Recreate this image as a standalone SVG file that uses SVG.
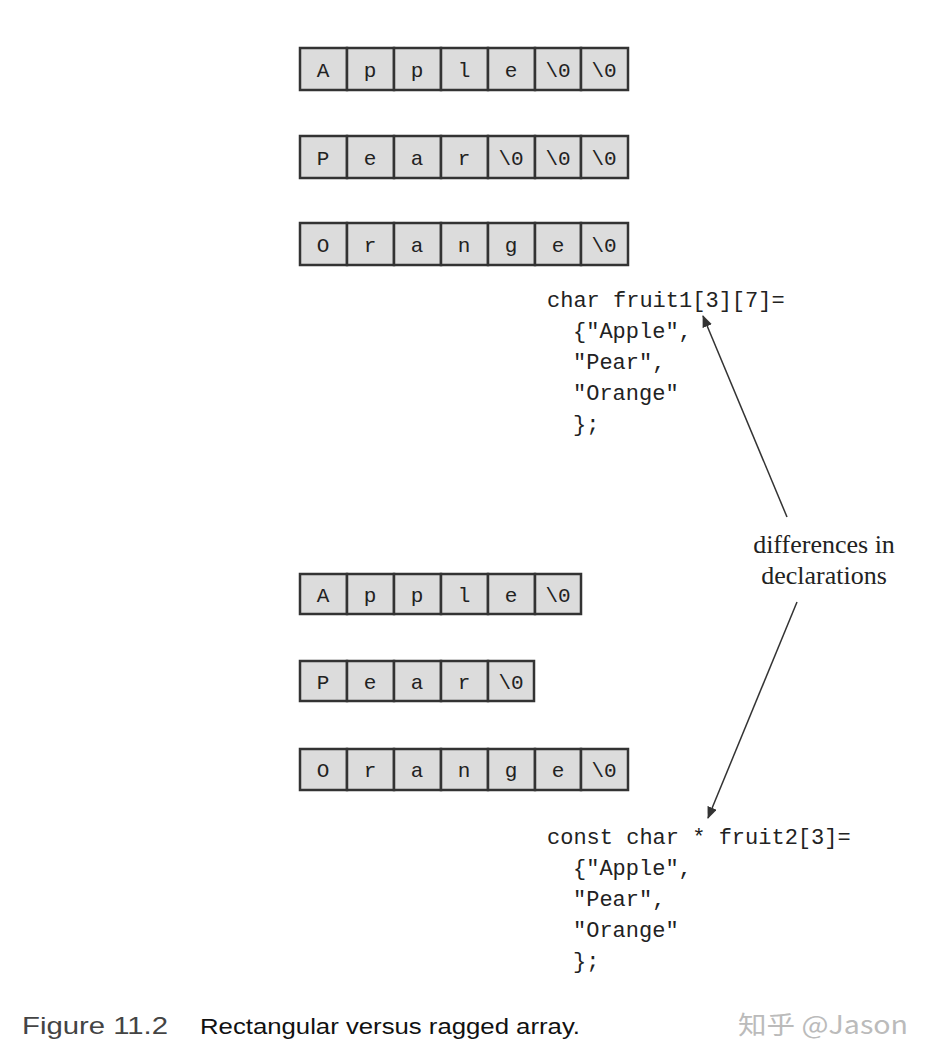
<svg xmlns="http://www.w3.org/2000/svg" width="932" height="1064" viewBox="0 0 932 1064">
<defs>
<style>
.c{fill:#dcdcdc;stroke:#333;stroke-width:2.5}
.t{font-family:"Liberation Mono",monospace;font-size:21px;fill:#222;text-anchor:middle}
.code{font-family:"Liberation Mono",monospace;font-size:22px;fill:#222}
.lbl{font-family:"Liberation Serif",serif;font-size:26px;fill:#222;text-anchor:middle}
.ln{stroke:#333;stroke-width:1.5;fill:none}
</style>
<marker id="ah" markerWidth="12" markerHeight="10" refX="11" refY="5" orient="auto" markerUnits="userSpaceOnUse"><path d="M0,0 L12,5 L0,10 Z" fill="#333"/></marker>
</defs>
<rect width="932" height="1064" fill="#fff"/>
<g id="r1" transform="translate(300,48)">
<rect class="c" x="0" y="0" width="47" height="42"/><rect class="c" x="47" y="0" width="47" height="42"/><rect class="c" x="94" y="0" width="47" height="42"/><rect class="c" x="141" y="0" width="47" height="42"/><rect class="c" x="188" y="0" width="47" height="42"/><rect class="c" x="235" y="0" width="46" height="42"/><rect class="c" x="281" y="0" width="47" height="42"/>
<text class="t" x="23" y="29">A</text><text class="t" x="70" y="29">p</text><text class="t" x="117" y="29">p</text><text class="t" x="164" y="29">l</text><text class="t" x="211" y="29">e</text><text class="t" x="258" y="29">\0</text><text class="t" x="304" y="29">\0</text>
</g>
<g id="r2" transform="translate(300,136)">
<rect class="c" x="0" y="0" width="47" height="42"/><rect class="c" x="47" y="0" width="47" height="42"/><rect class="c" x="94" y="0" width="47" height="42"/><rect class="c" x="141" y="0" width="47" height="42"/><rect class="c" x="188" y="0" width="47" height="42"/><rect class="c" x="235" y="0" width="46" height="42"/><rect class="c" x="281" y="0" width="47" height="42"/>
<text class="t" x="23" y="29">P</text><text class="t" x="70" y="29">e</text><text class="t" x="117" y="29">a</text><text class="t" x="164" y="29">r</text><text class="t" x="211" y="29">\0</text><text class="t" x="258" y="29">\0</text><text class="t" x="304" y="29">\0</text>
</g>
<g id="r3" transform="translate(300,223)">
<rect class="c" x="0" y="0" width="47" height="42"/><rect class="c" x="47" y="0" width="47" height="42"/><rect class="c" x="94" y="0" width="47" height="42"/><rect class="c" x="141" y="0" width="47" height="42"/><rect class="c" x="188" y="0" width="47" height="42"/><rect class="c" x="235" y="0" width="46" height="42"/><rect class="c" x="281" y="0" width="47" height="42"/>
<text class="t" x="23" y="29">O</text><text class="t" x="70" y="29">r</text><text class="t" x="117" y="29">a</text><text class="t" x="164" y="29">n</text><text class="t" x="211" y="29">g</text><text class="t" x="258" y="29">e</text><text class="t" x="304" y="29">\0</text>
</g>
<g id="code1">
<text class="code" x="547" y="307">char fruit1[3][7]=</text>
<text class="code" x="573" y="338">{"Apple",</text>
<text class="code" x="573" y="369">"Pear",</text>
<text class="code" x="573" y="400">"Orange"</text>
<text class="code" x="573" y="431">};</text>
</g>
<g id="label"><text class="lbl" x="824" y="553">differences in</text><text class="lbl" x="824" y="584">declarations</text></g>
<g id="s1" transform="translate(300,574)">
<rect class="c" x="0" y="0" width="47" height="40"/><rect class="c" x="47" y="0" width="47" height="40"/><rect class="c" x="94" y="0" width="47" height="40"/><rect class="c" x="141" y="0" width="47" height="40"/><rect class="c" x="188" y="0" width="47" height="40"/><rect class="c" x="235" y="0" width="46" height="40"/>
<text class="t" x="23" y="28">A</text><text class="t" x="70" y="28">p</text><text class="t" x="117" y="28">p</text><text class="t" x="164" y="28">l</text><text class="t" x="211" y="28">e</text><text class="t" x="258" y="28">\0</text>
</g>
<g id="s2" transform="translate(300,661)">
<rect class="c" x="0" y="0" width="47" height="40"/><rect class="c" x="47" y="0" width="47" height="40"/><rect class="c" x="94" y="0" width="47" height="40"/><rect class="c" x="141" y="0" width="47" height="40"/><rect class="c" x="188" y="0" width="46" height="40"/>
<text class="t" x="23" y="28">P</text><text class="t" x="70" y="28">e</text><text class="t" x="117" y="28">a</text><text class="t" x="164" y="28">r</text><text class="t" x="211" y="28">\0</text>
</g>
<g id="s3" transform="translate(300,749)">
<rect class="c" x="0" y="0" width="47" height="41"/><rect class="c" x="47" y="0" width="47" height="41"/><rect class="c" x="94" y="0" width="47" height="41"/><rect class="c" x="141" y="0" width="47" height="41"/><rect class="c" x="188" y="0" width="47" height="41"/><rect class="c" x="235" y="0" width="46" height="41"/><rect class="c" x="281" y="0" width="47" height="41"/>
<text class="t" x="23" y="28">O</text><text class="t" x="70" y="28">r</text><text class="t" x="117" y="28">a</text><text class="t" x="164" y="28">n</text><text class="t" x="211" y="28">g</text><text class="t" x="258" y="28">e</text><text class="t" x="304" y="28">\0</text>
</g>
<g id="code2">
<text class="code" x="547" y="844">const char * fruit2[3]=</text>
<text class="code" x="573" y="875">{"Apple",</text>
<text class="code" x="573" y="906">"Pear",</text>
<text class="code" x="573" y="937">"Orange"</text>
<text class="code" x="573" y="968">};</text>
</g>
<g id="connectors">
<line class="ln" x1="787" y1="517" x2="703" y2="316" marker-end="url(#ah)"/>
<line class="ln" x1="797" y1="602" x2="708" y2="818" marker-end="url(#ah)"/>
</g>
<g id="caption">
<text x="22" y="1034" font-family="Liberation Sans,sans-serif" font-size="24" fill="#444" textLength="146" lengthAdjust="spacingAndGlyphs">Figure 11.2</text>
<text x="200" y="1034" font-family="Liberation Sans,sans-serif" font-size="22" fill="#111" textLength="380" lengthAdjust="spacingAndGlyphs">Rectangular versus ragged array.</text>
<text x="738" y="1034" font-family="Noto Sans CJK SC,sans-serif" font-size="25" fill="#bbb" textLength="170" lengthAdjust="spacingAndGlyphs">知乎 @Jason</text>
</g>
</svg>
